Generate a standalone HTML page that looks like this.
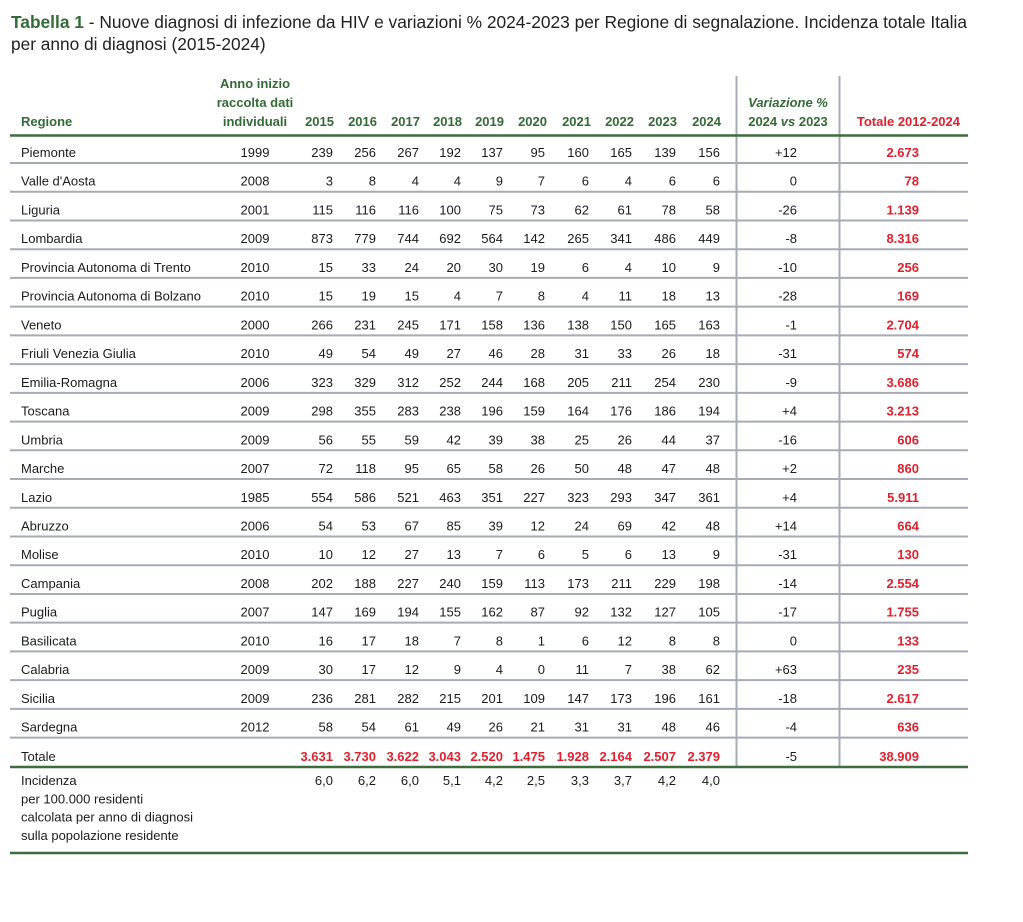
<!DOCTYPE html>
<html><head><meta charset="utf-8">
<style>
html,body{margin:0;padding:0;background:#fff;}
svg{display:block;}
text{font-family:"Liberation Sans",Arial,sans-serif;font-size:13px;fill:#1c1c1c;}
.e{text-anchor:end;}
.m{text-anchor:middle;}
.h{font-weight:bold;fill:#336b36;}
.r{font-weight:bold;fill:#e2202d;}
.t{font-size:17.3px;fill:#222;}
</style></head>
<body>
<svg width="1023" height="922" viewBox="0 0 1023 922" xmlns="http://www.w3.org/2000/svg">
<rect width="1023" height="922" fill="#fff"/>
<!-- Title -->
<text class="t" x="11" y="28" textLength="956" lengthAdjust="spacingAndGlyphs"><tspan font-weight="bold" fill="#336b36">Tabella 1</tspan> - Nuove diagnosi di infezione da HIV e variazioni % 2024-2023 per Regione di segnalazione. Incidenza totale Italia</text>
<text class="t" x="11" y="50">per anno di diagnosi (2015-2024)</text>

<!-- vertical lines -->
<line x1="736.5" y1="76" x2="736.5" y2="767" stroke="#a7aab7" stroke-width="2"/>
<line x1="839.5" y1="76" x2="839.5" y2="767" stroke="#a7aab7" stroke-width="2"/>

<!-- Header -->
<text class="h" x="21" y="126">Regione</text>
<text class="h m" x="255" y="88">Anno inizio</text>
<text class="h m" x="255" y="107">raccolta dati</text>
<text class="h m" x="255" y="126">individuali</text>
<g class="h">
<text class="h e" x="334" y="126">2015</text>
<text class="h e" x="377" y="126">2016</text>
<text class="h e" x="420" y="126">2017</text>
<text class="h e" x="462" y="126">2018</text>
<text class="h e" x="504" y="126">2019</text>
<text class="h e" x="547" y="126">2020</text>
<text class="h e" x="591" y="126">2021</text>
<text class="h e" x="634" y="126">2022</text>
<text class="h e" x="677" y="126">2023</text>
<text class="h e" x="721" y="126">2024</text>
</g>
<text class="h m" x="788" y="107" font-style="italic">Variazione %</text>
<text class="h m" x="788" y="126">2024 <tspan font-style="italic">vs</tspan> 2023</text>
<text class="r e" x="960" y="126">Totale 2012-2024</text>

<!-- horizontal lines -->
<g stroke="#a7aab7" stroke-width="2">
<line x1="10" x2="968" y1="163" y2="163"/>
<line x1="10" x2="968" y1="191.73" y2="191.73"/>
<line x1="10" x2="968" y1="220.46" y2="220.46"/>
<line x1="10" x2="968" y1="249.19" y2="249.19"/>
<line x1="10" x2="968" y1="277.92" y2="277.92"/>
<line x1="10" x2="968" y1="306.65" y2="306.65"/>
<line x1="10" x2="968" y1="335.38" y2="335.38"/>
<line x1="10" x2="968" y1="364.11" y2="364.11"/>
<line x1="10" x2="968" y1="392.84" y2="392.84"/>
<line x1="10" x2="968" y1="421.57" y2="421.57"/>
<line x1="10" x2="968" y1="450.3" y2="450.3"/>
<line x1="10" x2="968" y1="479.03" y2="479.03"/>
<line x1="10" x2="968" y1="507.76" y2="507.76"/>
<line x1="10" x2="968" y1="536.49" y2="536.49"/>
<line x1="10" x2="968" y1="565.22" y2="565.22"/>
<line x1="10" x2="968" y1="593.95" y2="593.95"/>
<line x1="10" x2="968" y1="622.68" y2="622.68"/>
<line x1="10" x2="968" y1="651.41" y2="651.41"/>
<line x1="10" x2="968" y1="680.14" y2="680.14"/>
<line x1="10" x2="968" y1="708.87" y2="708.87"/>
<line x1="10" x2="968" y1="737.6" y2="737.6"/>
</g>
<g stroke="#3c6d3c" stroke-width="2.6">
<line x1="10" x2="968" y1="135.5" y2="135.5"/>
<line x1="10" x2="968" y1="767" y2="767"/>
<line x1="10" x2="968" y1="853" y2="853"/>
</g>

<!-- Rows -->
<g transform="translate(0,157)"><text x="21">Piemonte</text><text class="m" x="255">1999</text><text class="e" x="333">239</text><text class="e" x="376">256</text><text class="e" x="419">267</text><text class="e" x="461">192</text><text class="e" x="503">137</text><text class="e" x="545">95</text><text class="e" x="589">160</text><text class="e" x="632">165</text><text class="e" x="676">139</text><text class="e" x="720">156</text><text class="e" x="797">+12</text><text class="r e" x="919">2.673</text></g>
<g transform="translate(0,185.73)"><text x="21">Valle d'Aosta</text><text class="m" x="255">2008</text><text class="e" x="333">3</text><text class="e" x="376">8</text><text class="e" x="419">4</text><text class="e" x="461">4</text><text class="e" x="503">9</text><text class="e" x="545">7</text><text class="e" x="589">6</text><text class="e" x="632">4</text><text class="e" x="676">6</text><text class="e" x="720">6</text><text class="e" x="797">0</text><text class="r e" x="919">78</text></g>
<g transform="translate(0,214.46)"><text x="21">Liguria</text><text class="m" x="255">2001</text><text class="e" x="333">115</text><text class="e" x="376">116</text><text class="e" x="419">116</text><text class="e" x="461">100</text><text class="e" x="503">75</text><text class="e" x="545">73</text><text class="e" x="589">62</text><text class="e" x="632">61</text><text class="e" x="676">78</text><text class="e" x="720">58</text><text class="e" x="797">-26</text><text class="r e" x="919">1.139</text></g>
<g transform="translate(0,243.19)"><text x="21">Lombardia</text><text class="m" x="255">2009</text><text class="e" x="333">873</text><text class="e" x="376">779</text><text class="e" x="419">744</text><text class="e" x="461">692</text><text class="e" x="503">564</text><text class="e" x="545">142</text><text class="e" x="589">265</text><text class="e" x="632">341</text><text class="e" x="676">486</text><text class="e" x="720">449</text><text class="e" x="797">-8</text><text class="r e" x="919">8.316</text></g>
<g transform="translate(0,271.92)"><text x="21">Provincia Autonoma di Trento</text><text class="m" x="255">2010</text><text class="e" x="333">15</text><text class="e" x="376">33</text><text class="e" x="419">24</text><text class="e" x="461">20</text><text class="e" x="503">30</text><text class="e" x="545">19</text><text class="e" x="589">6</text><text class="e" x="632">4</text><text class="e" x="676">10</text><text class="e" x="720">9</text><text class="e" x="797">-10</text><text class="r e" x="919">256</text></g>
<g transform="translate(0,300.65)"><text x="21">Provincia Autonoma di Bolzano</text><text class="m" x="255">2010</text><text class="e" x="333">15</text><text class="e" x="376">19</text><text class="e" x="419">15</text><text class="e" x="461">4</text><text class="e" x="503">7</text><text class="e" x="545">8</text><text class="e" x="589">4</text><text class="e" x="632">11</text><text class="e" x="676">18</text><text class="e" x="720">13</text><text class="e" x="797">-28</text><text class="r e" x="919">169</text></g>
<g transform="translate(0,329.38)"><text x="21">Veneto</text><text class="m" x="255">2000</text><text class="e" x="333">266</text><text class="e" x="376">231</text><text class="e" x="419">245</text><text class="e" x="461">171</text><text class="e" x="503">158</text><text class="e" x="545">136</text><text class="e" x="589">138</text><text class="e" x="632">150</text><text class="e" x="676">165</text><text class="e" x="720">163</text><text class="e" x="797">-1</text><text class="r e" x="919">2.704</text></g>
<g transform="translate(0,358.11)"><text x="21">Friuli Venezia Giulia</text><text class="m" x="255">2010</text><text class="e" x="333">49</text><text class="e" x="376">54</text><text class="e" x="419">49</text><text class="e" x="461">27</text><text class="e" x="503">46</text><text class="e" x="545">28</text><text class="e" x="589">31</text><text class="e" x="632">33</text><text class="e" x="676">26</text><text class="e" x="720">18</text><text class="e" x="797">-31</text><text class="r e" x="919">574</text></g>
<g transform="translate(0,386.84)"><text x="21">Emilia-Romagna</text><text class="m" x="255">2006</text><text class="e" x="333">323</text><text class="e" x="376">329</text><text class="e" x="419">312</text><text class="e" x="461">252</text><text class="e" x="503">244</text><text class="e" x="545">168</text><text class="e" x="589">205</text><text class="e" x="632">211</text><text class="e" x="676">254</text><text class="e" x="720">230</text><text class="e" x="797">-9</text><text class="r e" x="919">3.686</text></g>
<g transform="translate(0,415.57)"><text x="21">Toscana</text><text class="m" x="255">2009</text><text class="e" x="333">298</text><text class="e" x="376">355</text><text class="e" x="419">283</text><text class="e" x="461">238</text><text class="e" x="503">196</text><text class="e" x="545">159</text><text class="e" x="589">164</text><text class="e" x="632">176</text><text class="e" x="676">186</text><text class="e" x="720">194</text><text class="e" x="797">+4</text><text class="r e" x="919">3.213</text></g>
<g transform="translate(0,444.3)"><text x="21">Umbria</text><text class="m" x="255">2009</text><text class="e" x="333">56</text><text class="e" x="376">55</text><text class="e" x="419">59</text><text class="e" x="461">42</text><text class="e" x="503">39</text><text class="e" x="545">38</text><text class="e" x="589">25</text><text class="e" x="632">26</text><text class="e" x="676">44</text><text class="e" x="720">37</text><text class="e" x="797">-16</text><text class="r e" x="919">606</text></g>
<g transform="translate(0,473.03)"><text x="21">Marche</text><text class="m" x="255">2007</text><text class="e" x="333">72</text><text class="e" x="376">118</text><text class="e" x="419">95</text><text class="e" x="461">65</text><text class="e" x="503">58</text><text class="e" x="545">26</text><text class="e" x="589">50</text><text class="e" x="632">48</text><text class="e" x="676">47</text><text class="e" x="720">48</text><text class="e" x="797">+2</text><text class="r e" x="919">860</text></g>
<g transform="translate(0,501.76)"><text x="21">Lazio</text><text class="m" x="255">1985</text><text class="e" x="333">554</text><text class="e" x="376">586</text><text class="e" x="419">521</text><text class="e" x="461">463</text><text class="e" x="503">351</text><text class="e" x="545">227</text><text class="e" x="589">323</text><text class="e" x="632">293</text><text class="e" x="676">347</text><text class="e" x="720">361</text><text class="e" x="797">+4</text><text class="r e" x="919">5.911</text></g>
<g transform="translate(0,530.49)"><text x="21">Abruzzo</text><text class="m" x="255">2006</text><text class="e" x="333">54</text><text class="e" x="376">53</text><text class="e" x="419">67</text><text class="e" x="461">85</text><text class="e" x="503">39</text><text class="e" x="545">12</text><text class="e" x="589">24</text><text class="e" x="632">69</text><text class="e" x="676">42</text><text class="e" x="720">48</text><text class="e" x="797">+14</text><text class="r e" x="919">664</text></g>
<g transform="translate(0,559.22)"><text x="21">Molise</text><text class="m" x="255">2010</text><text class="e" x="333">10</text><text class="e" x="376">12</text><text class="e" x="419">27</text><text class="e" x="461">13</text><text class="e" x="503">7</text><text class="e" x="545">6</text><text class="e" x="589">5</text><text class="e" x="632">6</text><text class="e" x="676">13</text><text class="e" x="720">9</text><text class="e" x="797">-31</text><text class="r e" x="919">130</text></g>
<g transform="translate(0,587.95)"><text x="21">Campania</text><text class="m" x="255">2008</text><text class="e" x="333">202</text><text class="e" x="376">188</text><text class="e" x="419">227</text><text class="e" x="461">240</text><text class="e" x="503">159</text><text class="e" x="545">113</text><text class="e" x="589">173</text><text class="e" x="632">211</text><text class="e" x="676">229</text><text class="e" x="720">198</text><text class="e" x="797">-14</text><text class="r e" x="919">2.554</text></g>
<g transform="translate(0,616.68)"><text x="21">Puglia</text><text class="m" x="255">2007</text><text class="e" x="333">147</text><text class="e" x="376">169</text><text class="e" x="419">194</text><text class="e" x="461">155</text><text class="e" x="503">162</text><text class="e" x="545">87</text><text class="e" x="589">92</text><text class="e" x="632">132</text><text class="e" x="676">127</text><text class="e" x="720">105</text><text class="e" x="797">-17</text><text class="r e" x="919">1.755</text></g>
<g transform="translate(0,645.41)"><text x="21">Basilicata</text><text class="m" x="255">2010</text><text class="e" x="333">16</text><text class="e" x="376">17</text><text class="e" x="419">18</text><text class="e" x="461">7</text><text class="e" x="503">8</text><text class="e" x="545">1</text><text class="e" x="589">6</text><text class="e" x="632">12</text><text class="e" x="676">8</text><text class="e" x="720">8</text><text class="e" x="797">0</text><text class="r e" x="919">133</text></g>
<g transform="translate(0,674.14)"><text x="21">Calabria</text><text class="m" x="255">2009</text><text class="e" x="333">30</text><text class="e" x="376">17</text><text class="e" x="419">12</text><text class="e" x="461">9</text><text class="e" x="503">4</text><text class="e" x="545">0</text><text class="e" x="589">11</text><text class="e" x="632">7</text><text class="e" x="676">38</text><text class="e" x="720">62</text><text class="e" x="797">+63</text><text class="r e" x="919">235</text></g>
<g transform="translate(0,702.87)"><text x="21">Sicilia</text><text class="m" x="255">2009</text><text class="e" x="333">236</text><text class="e" x="376">281</text><text class="e" x="419">282</text><text class="e" x="461">215</text><text class="e" x="503">201</text><text class="e" x="545">109</text><text class="e" x="589">147</text><text class="e" x="632">173</text><text class="e" x="676">196</text><text class="e" x="720">161</text><text class="e" x="797">-18</text><text class="r e" x="919">2.617</text></g>
<g transform="translate(0,731.6)"><text x="21">Sardegna</text><text class="m" x="255">2012</text><text class="e" x="333">58</text><text class="e" x="376">54</text><text class="e" x="419">61</text><text class="e" x="461">49</text><text class="e" x="503">26</text><text class="e" x="545">21</text><text class="e" x="589">31</text><text class="e" x="632">31</text><text class="e" x="676">48</text><text class="e" x="720">46</text><text class="e" x="797">-4</text><text class="r e" x="919">636</text></g>
<g transform="translate(0,761)"><text x="21">Totale</text><text class="r e" x="333">3.631</text><text class="r e" x="376">3.730</text><text class="r e" x="419">3.622</text><text class="r e" x="461">3.043</text><text class="r e" x="503">2.520</text><text class="r e" x="545">1.475</text><text class="r e" x="589">1.928</text><text class="r e" x="632">2.164</text><text class="r e" x="676">2.507</text><text class="r e" x="720">2.379</text><text class="e" x="797">-5</text><text class="r e" x="919">38.909</text></g>

<!-- Incidenza -->
<g transform="translate(0,785)"><text x="21">Incidenza</text><text class="e" x="333">6,0</text><text class="e" x="376">6,2</text><text class="e" x="419">6,0</text><text class="e" x="461">5,1</text><text class="e" x="503">4,2</text><text class="e" x="545">2,5</text><text class="e" x="589">3,3</text><text class="e" x="632">3,7</text><text class="e" x="676">4,2</text><text class="e" x="720">4,0</text></g>
<text x="21" y="803.3">per 100.000 residenti</text>
<text x="21" y="821.6">calcolata per anno di diagnosi</text>
<text x="21" y="839.9">sulla popolazione residente</text>
</svg>
</body></html>
